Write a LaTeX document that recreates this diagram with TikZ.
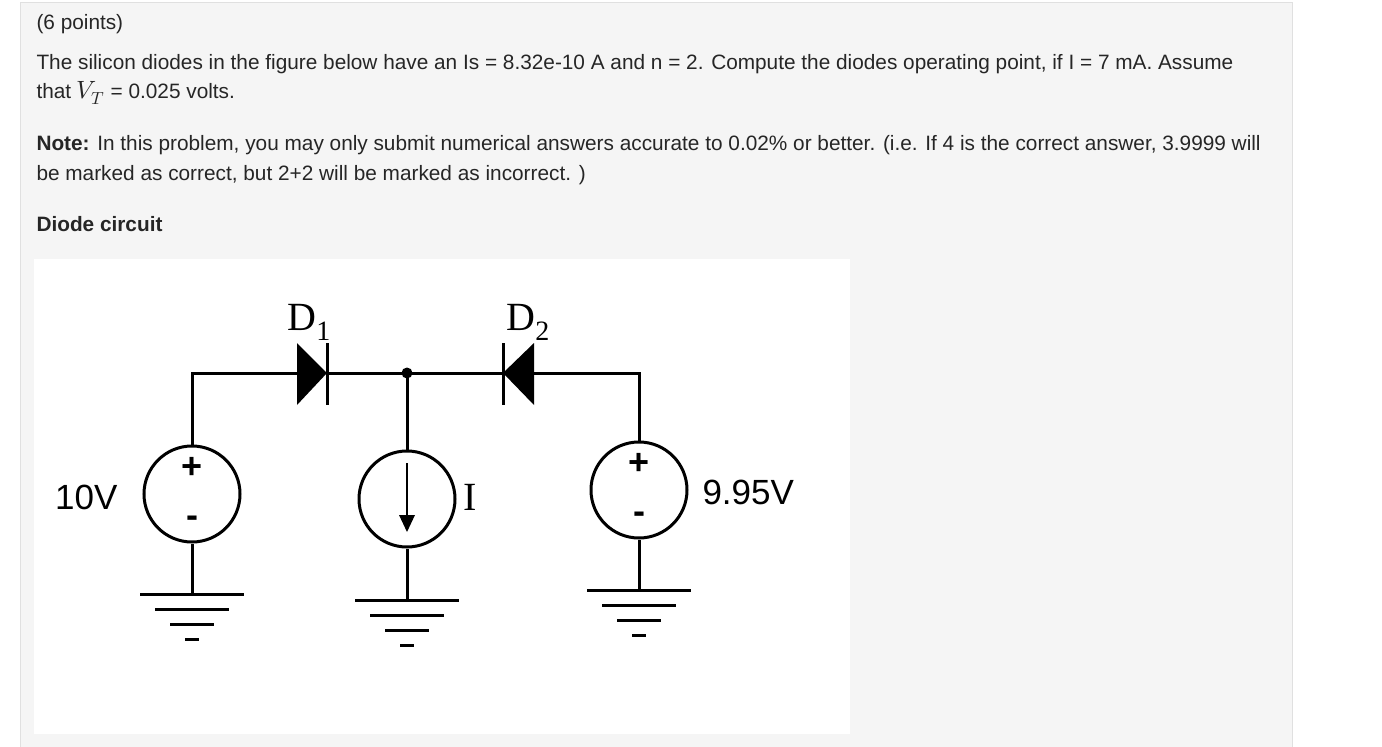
\documentclass[tikz,border=0pt]{standalone}
\usepackage{fontspec}
\setmainfont{Liberation Sans}
\newfontfamily\serifc{Liberation Serif}
\usepackage{unicode-math}
\begin{document}
\begin{tikzpicture}[x=1pt,y=-1pt,line width=3pt,
  txt/.style={anchor=base west,inner sep=0pt,font=\fontsize{20.8}{22}\selectfont,text=black!85},
  big/.style={inner sep=0pt,font=\fontsize{35}{36}\selectfont},
  pm/.style={inner sep=0pt,font=\bfseries\fontsize{36}{36}\selectfont},
  lab/.style={inner sep=0pt,font=\serifc\fontsize{40}{40}\selectfont},
  src/.style={circle,draw,minimum size=96pt,inner sep=0pt}]
\useasboundingbox (0,0) rectangle (1382,747);
\fill[white] (0,0) rectangle (1382,747);
\draw[line width=1pt,draw=black!12,fill=black!4] (20,2) rectangle (1292,760);
\fill[white] (34,259) rectangle (850,734);
\node[txt] (t1) at (35,29) {(6 points)};
\node[txt] (t2) at (35,69) {The silicon diodes in the figure below have an Is = 8.32e-10 A and n = 2. Compute the diodes operating point, if I = 7 mA. Assume};
\node[txt] (t3) at (35,98) {that {\fontsize{25}{25}\selectfont$V_T$} = 0.025 volts.};
\node[txt] (t4) at (35,150) {\textbf{Note:} In this problem, you may only submit numerical answers accurate to 0.02\% or better. (i.e. If 4 is the correct answer, 3.9999 will};
\node[txt] (t5) at (35,180) {be marked as correct, but 2+2 will be marked as incorrect. )};
\node[txt] (t6) at (35,231) {\textbf{Diode circuit}};
% nodes
\node[src] (V1) at (192,494) {};
\node[src] (Is) at (407,499) {};
\node[src] (V2) at (639,490) {};
\node[pm] at (192,468) {+};
\node[pm] at (192,522) {-};
\node[pm] at (639,464) {+};
\node[pm] at (639,518) {-};
\node[big,anchor=east] (l1) at (119,497) {10V};
\node[big,anchor=west] (l2) at (701,492) {9.95V};
\node[lab,anchor=base west] (d1) at (286,330) {D\raisebox{-10pt}{\fontsize{28}{28}\selectfont 1}};
\node[lab,anchor=base west] (d2) at (505,330) {D\raisebox{-10pt}{\fontsize{28}{28}\selectfont 2}};
\node[lab,anchor=west] (li) at (462,497) {I};
\coordinate (tl) at (192,373);
\coordinate (tr) at (639,373);
\coordinate (j) at (407,373);
\coordinate (a1) at (297,373);
\coordinate (k1) at (327,373);
\coordinate (k2) at (503,373);
\coordinate (a2) at (534,373);
\fill (j) circle (5.5pt);
% diodes
\fill (297,343) -- (327,373) -- (297,405) -- cycle;
\draw (327,343) -- (327,405);
\fill (534,343) -- (503,373) -- (534,405) -- cycle;
\draw (503,343) -- (503,405);
% wires
\draw (V1.north) -- (tl) -- (a1);
\draw (k1) -- (k2);
\draw (a2) -- (tr) -- (V2.north);
\draw (j) -- (Is.north);
\draw[line width=1.8pt] (407,463) -- (407,515);
\fill (399,515) -- (415,515) -- (407,532) -- cycle;
% grounds
\foreach \n/\gx/\gy in {V1/192/594, Is/407/600, V2/639/590}{
  \draw (\n.south) -- (\gx,\gy);
  \draw (\gx-52,\gy) -- (\gx+52,\gy);
  \draw (\gx-37,\gy+15) -- (\gx+37,\gy+15);
  \draw (\gx-22,\gy+30) -- (\gx+22,\gy+30);
  \draw (\gx-7,\gy+45) -- (\gx+7,\gy+45);
}
\end{tikzpicture}
\end{document}
